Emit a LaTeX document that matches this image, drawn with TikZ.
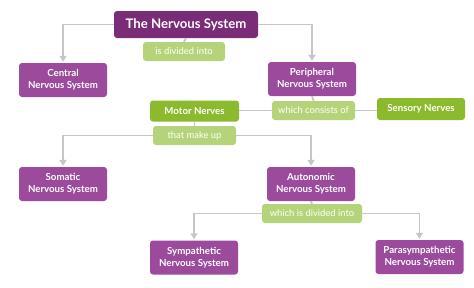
\documentclass[tikz,border=0pt]{standalone}
\usepackage{fontspec}
\setmainfont{Lato}
\usetikzlibrary{arrows.meta,positioning}
\definecolor{darkplum}{HTML}{7B2C78}
\definecolor{plum}{HTML}{9B4A9C}
\definecolor{leaf}{HTML}{8BBA2D}
\definecolor{paleleaf}{HTML}{B5D47A}
\definecolor{wiregray}{HTML}{C6C6C6}
\tikzset{
  topic/.style={fill=darkplum, rounded corners=3pt, text=white, font=\bfseries\fontsize{13.2}{15}\selectfont, minimum width=144pt, minimum height=27pt, inner sep=0pt},
  branch/.style={fill=plum, rounded corners=3pt, text=white, font=\bfseries\fontsize{9.7}{12}\selectfont, minimum width=88pt, minimum height=34pt, align=center, inner sep=0pt},
  nerve/.style={fill=leaf, rounded corners=3pt, text=white, font=\bfseries\fontsize{9.7}{12}\selectfont, minimum width=89pt, minimum height=21pt, inner sep=0pt},
  linkword/.style={fill=paleleaf, rounded corners=3pt, text=white, font=\fontsize{9.4}{11}\selectfont, minimum height=19pt, inner sep=0pt},
  wire/.style={draw=wiregray, line width=1.8pt},
  arrow/.style={wire, -{Triangle[length=6pt,width=7pt]}, shorten >=1pt}
}
\begin{document}
\begin{tikzpicture}[x=1pt, y=-1pt]
  \useasboundingbox (0,0) rectangle (474,287);
  % concepts
  \node[topic] (nervous) at (186,24.5) {The Nervous System};
  \node[branch] (central) at (63,80) {Central\\Nervous System};
  \node[branch] (periph) at (312,79) {Peripheral\\Nervous System};
  \node[nerve] (motor) at (194.5,111) {Motor Nerves};
  \node[nerve, minimum width=88pt, minimum height=22pt] (sensory) at (421,109) {Sensory Nerves};
  \node[branch] (somatic) at (63,184) {Somatic\\Nervous System};
  \node[branch] (auto) at (311,184) {Autonomic\\Nervous System};
  \node[branch] (symp) at (194,257.5) {Sympathetic\\Nervous System};
  \node[branch] (para) at (419.5,257) {Parasympathetic\\Nervous System};
  % linking words
  \node[linkword, minimum width=82pt] (isdiv) at (184,51.5) {is divided into};
  \node[linkword, minimum width=83pt] (consists) at (313.5,110.5) {which consists of};
  \node[linkword, minimum width=83pt] (makeup) at (194.5,135.5) {that make up};
  \node[linkword, minimum width=100pt] (whichdiv) at (312,213.5) {which is divided into};
  % connectors
  \draw[wire] (nervous.south) -- (isdiv.north);
  \draw[arrow] (nervous.west) -| (central.north);
  \draw[arrow] (nervous.east) -| (periph.north);
  \draw[wire] (periph.south) -- (consists.north);
  \draw[wire] (consists.west) -- (consists.west -| motor.east);
  \draw[wire] (consists.east) -- (consists.east -| sensory.west);
  \draw[wire] (motor.south) -- (makeup.north);
  \draw[arrow] (makeup.west) -| (somatic.north);
  \draw[arrow] (makeup.east) -| (auto.north);
  \draw[wire] (auto.south) -- (whichdiv.north);
  \draw[arrow] (whichdiv.west) -| (symp.north);
  \draw[arrow] (whichdiv.east) -| (para.north);
\end{tikzpicture}
\end{document}
